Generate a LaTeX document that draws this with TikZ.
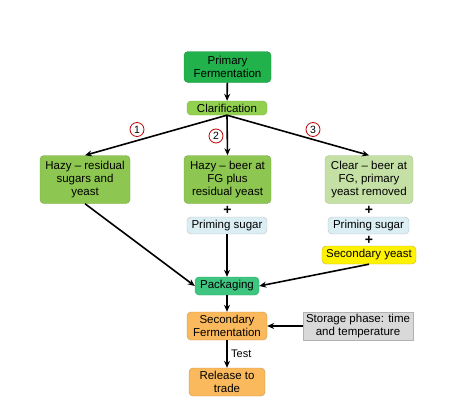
\documentclass[tikz,border=0pt]{standalone}
\usepackage{fontspec}
\setmainfont{Liberation Sans}
\usetikzlibrary{arrows.meta}

\definecolor{primgreen}{RGB}{33,178,75}
\definecolor{clargreen}{RGB}{146,208,80}
\definecolor{hazygreen}{RGB}{141,198,80}
\definecolor{cleargreen}{RGB}{197,224,165}
\definecolor{sugarblue}{RGB}{219,238,243}
\definecolor{packgreen}{RGB}{62,197,128}
\definecolor{fermorange}{RGB}{250,185,92}
\definecolor{storegray}{RGB}{217,217,217}

\tikzset{
  box/.style={rounded corners=4pt, align=center, inner sep=0pt,
    font=\fontsize{11.5}{13.3}\selectfont},
  flow/.style={-{Stealth[length=7pt,width=6pt]}, line width=1.6pt},
  num/.style={circle, draw=red!75!black, line width=0.8pt, inner sep=0pt,
    minimum size=14pt, font=\fontsize{10.5}{11}\selectfont},
  plus/.style={font=\fontsize{14}{14}\bfseries\selectfont, inner sep=0pt}
}

\begin{document}
\begin{tikzpicture}[x=1pt,y=-1pt]
\useasboundingbox (0,0) rectangle (474,402);

\node[box, fill=primgreen, draw=primgreen!85!black, minimum width=87pt, minimum height=31pt] (prim) at (227.5,67) {Primary\\Fermentation};
\node[box, fill=clargreen, draw=clargreen!85!black, minimum width=80pt, minimum height=14pt] (clar) at (227,108) {Clarification};

\node[box, fill=hazygreen, draw=hazygreen!85!black, minimum width=90pt, minimum height=48pt] (hazyA) at (85,179.5) {Hazy -- residual\\sugars and\\yeast};
\node[box, fill=hazygreen, draw=hazygreen!85!black, minimum width=87pt, minimum height=48pt] (hazyB) at (227.5,179.5) {Hazy -- beer at\\FG plus\\residual yeast};
\node[box, fill=cleargreen, draw=cleargreen!85!black, minimum width=88pt, minimum height=48pt] (clear) at (369,179.5) {Clear -- beer at\\FG, primary\\yeast removed};

\node[plus] (plusB) at (227.5,210) {+};
\node[plus] (plusC) at (369,210) {+};
\node[box, fill=sugarblue, draw=gray!50, minimum width=80pt, minimum height=17pt] (sugarB) at (227,225.5) {Priming sugar};
\node[box, fill=sugarblue, draw=gray!50, minimum width=81pt, minimum height=17pt] (sugarC) at (368.5,225.5) {Priming sugar};
\node[plus] (plusD) at (369,240) {+};
\node[box, fill=yellow, draw=yellow!70!black, minimum width=94pt, minimum height=18pt] (yeast) at (369,255) {Secondary yeast};

\node[box, fill=packgreen, draw=packgreen!85!black, minimum width=64pt, minimum height=18pt] (pack) at (227,286) {Packaging};
\node[box, fill=fermorange, draw=fermorange!80!black, minimum width=80pt, minimum height=28pt] (secf) at (227,326) {Secondary\\Fermentation};
\node[box, rounded corners=0pt, fill=storegray, draw=gray!60, minimum width=110pt, minimum height=28pt] (store) at (358,326) {Storage phase: time\\and temperature};
\node[box, fill=fermorange, draw=fermorange!80!black, minimum width=76pt, minimum height=28pt] (rel) at (227,382) {Release to\\trade};

\node[num] (n1) at (137,129.5) {1};
\node[num] (n2) at (216,136) {2};
\node[num] (n3) at (313,129.5) {3};

\draw[flow] (prim) -- (clar);
\draw[flow] (clar.south) -- (hazyA.north);
\draw[flow] (clar.south) -- (hazyB.north);
\draw[flow] (clar.south) -- (clear.north);
\draw[flow] (hazyA.south) -- (pack.west);
\draw[flow] (sugarB) -- (pack);
\draw[flow] (yeast.south) -- (pack.east);
\draw[flow] (pack) -- (secf);
\draw[flow] (store) -- (secf);
\draw[flow] (secf) -- node[right, font=\fontsize{11}{12}\selectfont] {Test} (rel);
\end{tikzpicture}
\end{document}
